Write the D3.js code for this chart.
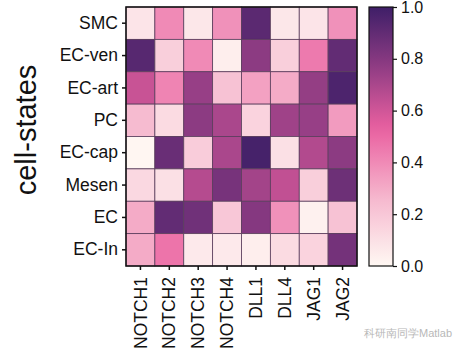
<!DOCTYPE html>
<html lang="en">
<head>
<meta charset="utf-8">
<title>cell-states heatmap</title>
<script src="https://cdn.jsdelivr.net/npm/d3@7"></script>
<style>
  html, body { margin: 0; padding: 0; background: #fff; }
  text { font-family: "Liberation Sans", Arial, sans-serif; }
</style>
</head>
<body>
<script>
// data
const rows = ["SMC", "EC-ven", "EC-art", "PC", "EC-cap", "Mesen", "EC", "EC-In"];
const cols = ["NOTCH1", "NOTCH2", "NOTCH3", "NOTCH4", "DLL1", "DLL4", "JAG1", "JAG2"];
const values = [
  [0.08, 0.40, 0.07, 0.38, 0.92, 0.07, 0.08, 0.38],
  [0.93, 0.17, 0.40, 0.04, 0.78, 0.17, 0.45, 0.90],
  [0.62, 0.42, 0.75, 0.22, 0.33, 0.30, 0.76, 0.96],
  [0.25, 0.12, 0.78, 0.70, 0.15, 0.73, 0.75, 0.35],
  [0.01, 0.88, 0.18, 0.70, 0.98, 0.10, 0.68, 0.78],
  [0.13, 0.10, 0.67, 0.84, 0.72, 0.64, 0.17, 0.87],
  [0.30, 0.90, 0.86, 0.20, 0.80, 0.38, 0.03, 0.22],
  [0.30, 0.47, 0.06, 0.06, 0.04, 0.12, 0.15, 0.85]
];
const barTicks = [0, 0.2, 0.4, 0.6, 0.8, 1.0];

const w = 474, h = 355;
const mLeft = 126, mRight = 357, mTop = 7, mBottom = 266;

const svg = d3.select("body").append("svg")
  .attr("width", w).attr("height", h);

// white -> pink -> dark purple
const color = d3.scaleLinear()
  .domain([0, 0.25, 0.53, 0.78, 1])
  .range(["#fff8f3", "#f6bbd0", "#ea60a0", "#8c3b82", "#3f1f68"])
  .interpolate(d3.interpolateRgb);

const x = d3.scaleBand().domain(cols).range([mLeft, mRight]);
const y = d3.scaleBand().domain(rows).range([mTop, mBottom]);

const cells = [];
rows.forEach((r, i) => cols.forEach((c, j) => cells.push({ r, c, v: values[i][j] })));

svg.append("g").selectAll("rect")
  .data(cells)
  .enter()
  .append("rect")
  .attr("x", d => x(d.c))
  .attr("y", d => y(d.r))
  .attr("width", x.bandwidth())
  .attr("height", y.bandwidth())
  .attr("fill", d => color(d.v))
  .attr("stroke", "#5a3d5c")
  .attr("stroke-width", 0.8);

svg.append("rect")
  .attr("x", mLeft).attr("y", mTop)
  .attr("width", mRight - mLeft).attr("height", mBottom - mTop)
  .attr("fill", "none").attr("stroke", "#111").attr("stroke-width", 1.5);

// axes
const yAxis = svg.append("g")
  .attr("transform", "translate(" + mLeft + ",0)")
  .call(d3.axisLeft(y).tickSize(4).tickPadding(4));
yAxis.select(".domain").remove();
yAxis.selectAll("line").attr("stroke", "#111").attr("stroke-width", 1.5);
yAxis.selectAll("text").attr("font-size", 17.5).attr("fill", "#111");

const xAxis = svg.append("g")
  .attr("transform", "translate(0," + mBottom + ")")
  .call(d3.axisBottom(x).tickSize(4).tickPadding(3));
xAxis.select(".domain").remove();
xAxis.selectAll("line").attr("stroke", "#111").attr("stroke-width", 1.5);
xAxis.selectAll("text")
  .attr("font-size", 17.5).attr("fill", "#111")
  .attr("text-anchor", "end")
  .attr("x", 0).attr("y", 0)
  .attr("dx", 0).attr("dy", "0.35em")
  .attr("transform", "translate(0,11) rotate(-90)");

svg.append("text")
  .attr("transform", "translate(36," + 130 + ") rotate(-90)")
  .attr("text-anchor", "middle")
  .attr("font-size", 29)
  .attr("fill", "#111")
  .text("cell-states");

// colour bar
const cbX = 369, cbW = 24;
const cbScale = d3.scaleLinear().domain([0, 1]).range([mBottom, mTop]);
const defs = svg.append("defs");
const grad = defs.append("linearGradient")
  .attr("id", "cb").attr("x1", 0).attr("y1", 1).attr("x2", 0).attr("y2", 0);
d3.range(0, 1.0001, 0.05).forEach(t => {
  grad.append("stop").attr("offset", t).attr("stop-color", color(t));
});
svg.append("rect")
  .attr("x", cbX).attr("y", mTop)
  .attr("width", cbW).attr("height", mBottom - mTop)
  .attr("fill", "url(#cb)")
  .attr("stroke", "#111").attr("stroke-width", 1.2);

const cbAxis = svg.append("g")
  .attr("transform", "translate(" + (cbX + cbW) + ",0)")
  .call(d3.axisRight(cbScale).tickValues(barTicks).tickFormat(d3.format(".1f")).tickSize(4).tickPadding(4));
cbAxis.select(".domain").remove();
cbAxis.selectAll("line").attr("stroke", "#111").attr("stroke-width", 1.2);
cbAxis.selectAll("text").attr("font-size", 16).attr("fill", "#111");

// watermark
svg.append("text")
  .attr("x", 364).attr("y", 337)
  .attr("font-size", 11)
  .attr("fill", "#b8b8b8")
  .text("科研南同学Matlab");
</script>
</body>
</html>
